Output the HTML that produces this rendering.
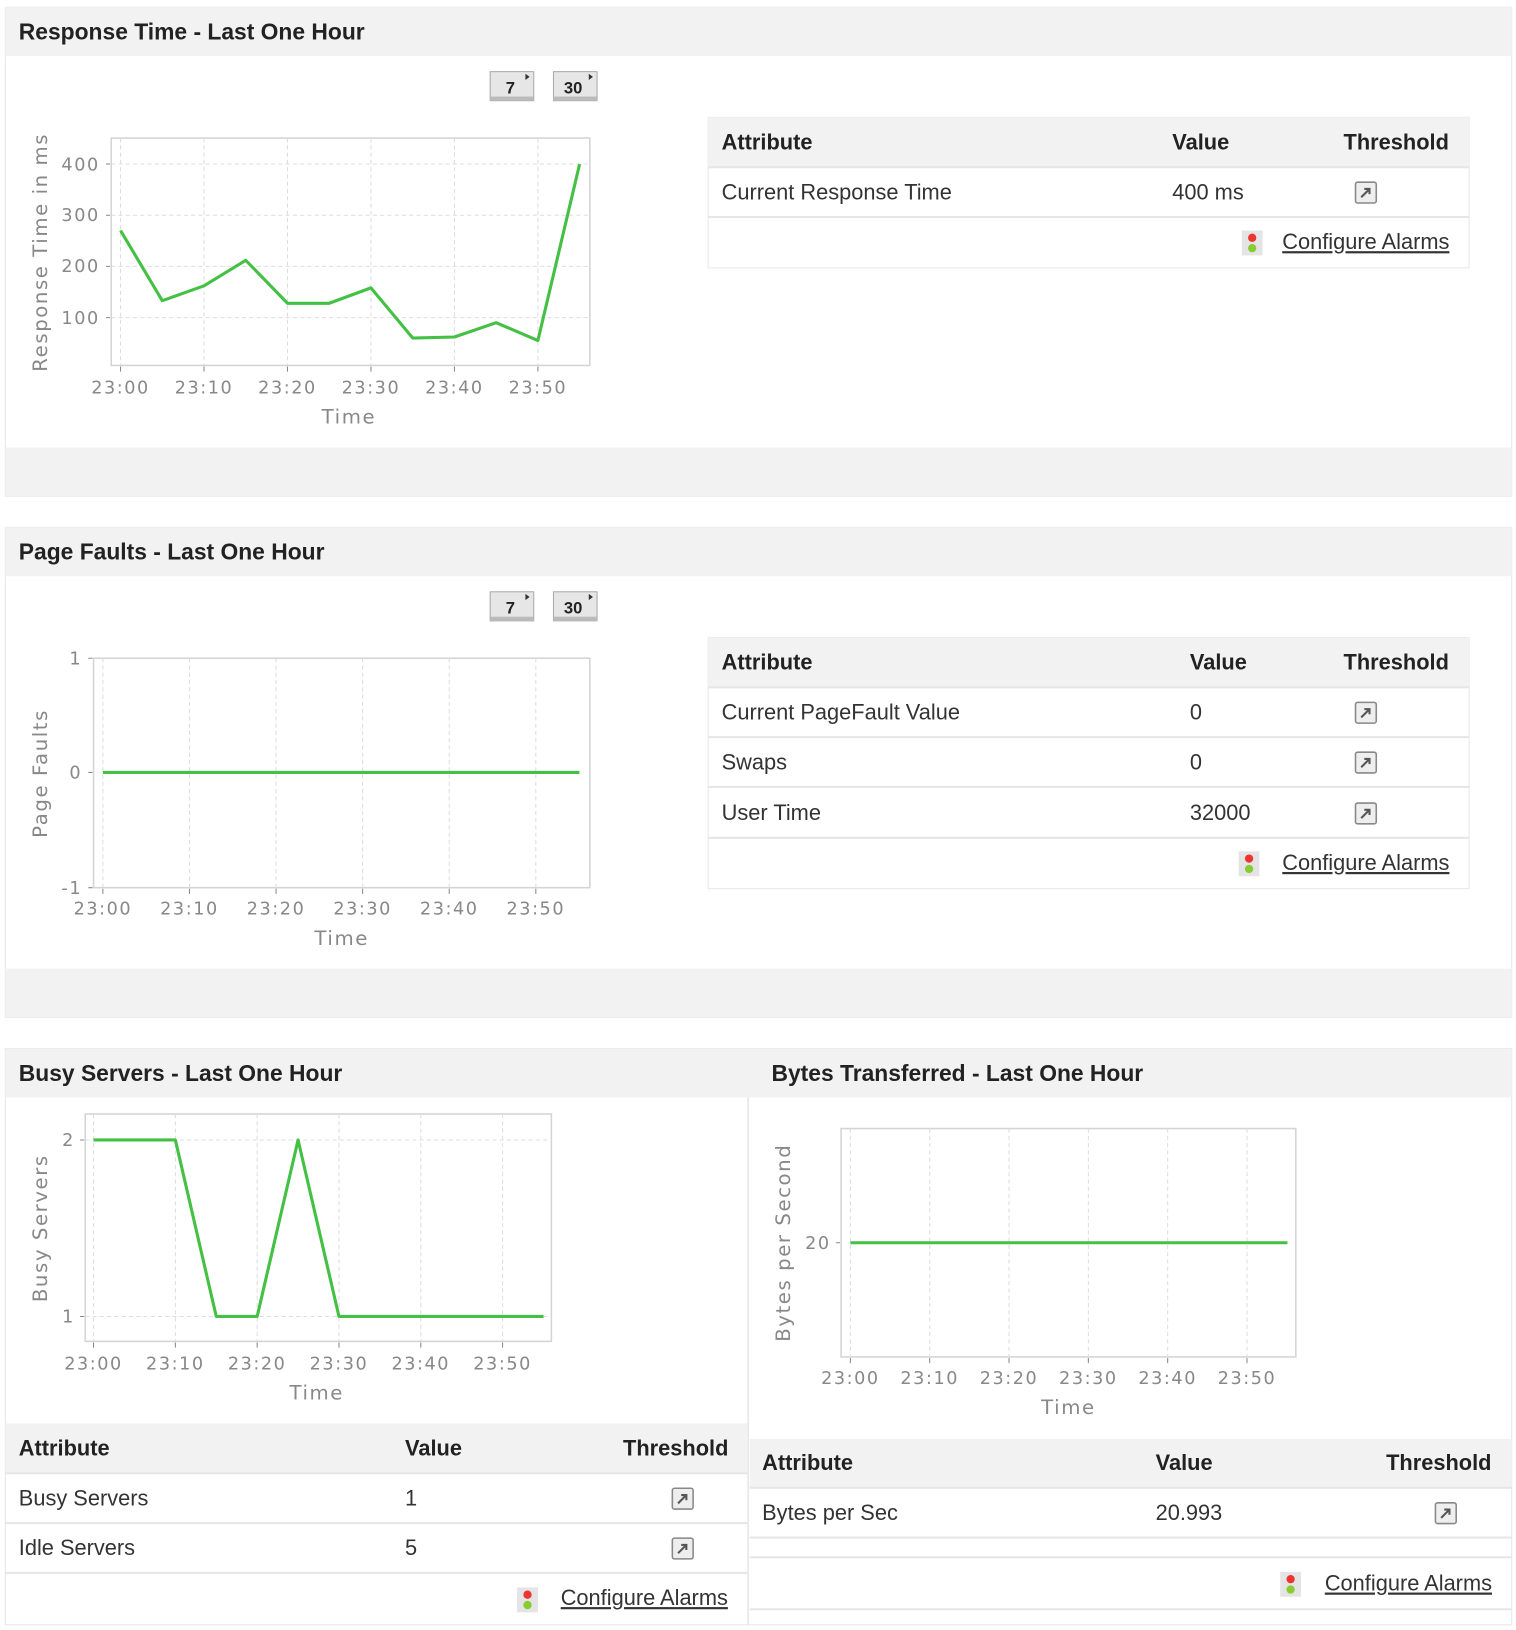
<!DOCTYPE html>
<html><head><meta charset="utf-8"><style>
html,body{margin:0;padding:0;background:#fff;width:1516px;height:1630px;overflow:hidden}
svg{display:block}
.t{font-family:"Liberation Sans",sans-serif;font-weight:bold;font-size:22px;fill:#222}
.h{font-family:"Liberation Sans",sans-serif;font-weight:bold;font-size:21px;fill:#222}
.c{font-family:"Liberation Sans",sans-serif;font-size:21px;fill:#333}
.k{font-family:"DejaVu Sans",sans-serif;font-size:17px;fill:#888;letter-spacing:1.5px}
.a{font-family:"DejaVu Sans",sans-serif;font-size:19px;fill:#888;letter-spacing:1.5px}
.g{stroke:#ddd;stroke-width:1;stroke-dasharray:4 3;fill:none}
.pb{fill:none;stroke:#d4d4d4;stroke-width:1.5}
.ln{fill:none;stroke:#44c044;stroke-width:3;stroke-linejoin:round}
.u{font-family:"Liberation Sans",sans-serif;font-size:21px;fill:#333;text-decoration:underline}
.btn{font-family:"Liberation Sans",sans-serif;font-weight:bold;font-size:16px;fill:#222}
</style></head><body>
<svg width="1516" height="1630" viewBox="0 0 1460 1570" xmlns="http://www.w3.org/2000/svg">
<defs>
<g id="ic"><rect x="0.5" y="0.5" width="20" height="20" rx="2" fill="#eee" stroke="#888" stroke-width="1.5"/><path d="M6 15 L14 7 M9 7 L14 7 L14 12" stroke="#555" stroke-width="2" fill="none"/></g>
<g id="tl"><rect x="0" y="0" width="20" height="24" fill="#e4e4e4"/><circle cx="10" cy="7" r="4" fill="#e33"/><circle cx="10" cy="17" r="4" fill="#8c3"/></g>
<g id="b7"><rect x="0" y="0" width="42" height="28" fill="#e6e6e6" stroke="#aaa"/><rect x="0" y="24" width="42" height="4" fill="#bbb"/></g>
</defs>

<!-- Panel 1 -->
<rect x="5" y="7" width="1451" height="471" fill="#fff" stroke="#e6e6e6"/>
<rect x="5" y="7" width="1451" height="47" fill="#f2f2f2"/>
<text class="t" x="18" y="38">Response Time - Last One Hour</text>
<rect x="5" y="431" width="1451" height="47" fill="#f2f2f2"/>
<use href="#b7" x="472" y="69"/><text class="btn" x="487" y="90">7</text><path d="M506 71 l4 3 l-4 3z" fill="#333"/>
<use href="#b7" x="533" y="69"/><text class="btn" x="543" y="90">30</text><path d="M567 71 l4 3 l-4 3z" fill="#333"/>
<rect x="107" y="133" width="461" height="219" fill="#fff" class="pb"/>
<g class="g">
<path d="M107 158H568M107 207.3H568M107 256.6H568M107 305.9H568"/>
<path d="M116 133V352M196.4 133V352M276.8 133V352M357.2 133V352M437.6 133V352M518 133V352"/>
</g>
<g stroke="#888"><path d="M102 158h4M102 207.3h4M102 256.6h4M102 305.9h4M116 353v5M196.4 353v5M276.8 353v5M357.2 353v5M437.6 353v5M518 353v5"/></g>
<g class="k" text-anchor="end"><text x="96" y="164">400</text><text x="96" y="213">300</text><text x="96" y="262">200</text><text x="96" y="312">100</text></g>
<g class="k" text-anchor="middle"><text x="116" y="379">23:00</text><text x="196.4" y="379">23:10</text><text x="276.8" y="379">23:20</text><text x="357.2" y="379">23:30</text><text x="437.6" y="379">23:40</text><text x="518" y="379">23:50</text></g>
<text class="a" x="336" y="408" text-anchor="middle">Time</text>
<text class="a" transform="translate(45,243) rotate(-90)" text-anchor="middle">Response Time in ms</text>
<polyline class="ln" points="116,222 156.2,289.6 196.4,275.3 236.6,250.7 276.8,292.1 317,292.1 357.2,277.3 397.4,325.6 437.6,324.6 477.8,310.8 518,328 558.2,158"/>

<rect x="682" y="113" width="733" height="145" fill="#fff" stroke="#e8e8e8"/>
<rect x="682" y="113" width="733" height="48" fill="#f2f2f2"/>
<path d="M682 161H1415M682 209H1415" stroke="#e6e6e6" stroke-width="2"/>
<text class="h" x="695" y="144">Attribute</text><text class="h" x="1129" y="144">Value</text><text class="h" x="1294" y="144">Threshold</text>
<text class="c" x="695" y="192">Current Response Time</text><text class="c" x="1129" y="192">400 ms</text><use href="#ic" x="1305" y="175"/>
<use href="#tl" x="1196" y="222"/><text class="u" x="1396" y="240" text-anchor="end">Configure Alarms</text>

<!-- Panel 2 -->
<rect x="5" y="508" width="1451" height="472" fill="#fff" stroke="#e6e6e6"/>
<rect x="5" y="508" width="1451" height="47" fill="#f2f2f2"/>
<text class="t" x="18" y="539">Page Faults - Last One Hour</text>
<rect x="5" y="933" width="1451" height="47" fill="#f2f2f2"/>
<use href="#b7" x="472" y="570"/><text class="btn" x="487" y="591">7</text><path d="M506 572 l4 3 l-4 3z" fill="#333"/>
<use href="#b7" x="533" y="570"/><text class="btn" x="543" y="591">30</text><path d="M567 572 l4 3 l-4 3z" fill="#333"/>
<rect x="90" y="634" width="478" height="221" class="pb" fill="#fff"/>
<g class="g"><path d="M99 634V855M182.4 634V855M265.8 634V855M349.2 634V855M432.6 634V855M516 634V855"/></g>
<g stroke="#888"><path d="M85 634h4M85 744h4M85 855h4M99 856v5M182.4 856v5M265.8 856v5M349.2 856v5M432.6 856v5M516 856v5"/></g>
<g class="k" text-anchor="end"><text x="79" y="640">1</text><text x="79" y="750">0</text><text x="79" y="861">-1</text></g>
<g class="k" text-anchor="middle"><text x="99" y="881">23:00</text><text x="182.4" y="881">23:10</text><text x="265.8" y="881">23:20</text><text x="349.2" y="881">23:30</text><text x="432.6" y="881">23:40</text><text x="516" y="881">23:50</text></g>
<text class="a" x="329" y="910" text-anchor="middle">Time</text>
<text class="a" transform="translate(45,745) rotate(-90)" text-anchor="middle">Page Faults</text>
<path class="ln" d="M99 744H558"/>

<rect x="682" y="614" width="733" height="242" fill="#fff" stroke="#e8e8e8"/>
<rect x="682" y="614" width="733" height="48" fill="#f2f2f2"/>
<path d="M682 662H1415M682 710H1415M682 758H1415M682 807H1415" stroke="#e6e6e6" stroke-width="2"/>
<text class="h" x="695" y="645">Attribute</text><text class="h" x="1146" y="645">Value</text><text class="h" x="1294" y="645">Threshold</text>
<text class="c" x="695" y="693">Current PageFault Value</text><text class="c" x="1146" y="693">0</text><use href="#ic" x="1305" y="676"/>
<text class="c" x="695" y="741">Swaps</text><text class="c" x="1146" y="741">0</text><use href="#ic" x="1305" y="724"/>
<text class="c" x="695" y="790">User Time</text><text class="c" x="1146" y="790">32000</text><use href="#ic" x="1305" y="773"/>
<use href="#tl" x="1193" y="820"/><text class="u" x="1396" y="838" text-anchor="end">Configure Alarms</text>

<!-- Panel 3 -->
<rect x="5" y="1010" width="1451" height="555" fill="#fff" stroke="#e6e6e6"/>
<rect x="5" y="1010" width="1451" height="47" fill="#f2f2f2"/>
<path d="M720.5 1057V1565" stroke="#e6e6e6" stroke-width="1.5"/>
<text class="t" x="18" y="1041">Busy Servers - Last One Hour</text>
<text class="t" x="743" y="1041">Bytes Transferred - Last One Hour</text>

<rect x="82" y="1073" width="449" height="219" class="pb" fill="#fff"/>
<g class="g"><path d="M82 1098H531M82 1268H531"/><path d="M90 1073V1292M168.8 1073V1292M247.6 1073V1292M326.4 1073V1292M405.2 1073V1292M484 1073V1292"/></g>
<g stroke="#888"><path d="M77 1098h4M77 1268h4M90 1293v5M168.8 1293v5M247.6 1293v5M326.4 1293v5M405.2 1293v5M484 1293v5"/></g>
<g class="k" text-anchor="end"><text x="72" y="1104">2</text><text x="72" y="1274">1</text></g>
<g class="k" text-anchor="middle"><text x="90" y="1319">23:00</text><text x="168.8" y="1319">23:10</text><text x="247.6" y="1319">23:20</text><text x="326.4" y="1319">23:30</text><text x="405.2" y="1319">23:40</text><text x="484" y="1319">23:50</text></g>
<text class="a" x="305" y="1348" text-anchor="middle">Time</text>
<text class="a" transform="translate(45,1183) rotate(-90)" text-anchor="middle">Busy Servers</text>
<polyline class="ln" points="90,1098 129.4,1098 168.8,1098 208.2,1268 247.6,1268 287,1098 326.4,1268 365.8,1268 405.2,1268 444.6,1268 484,1268 523.4,1268"/>

<rect x="5" y="1371" width="715" height="48" fill="#f2f2f2"/>
<path d="M5 1419H720M5 1467H720M5 1515H720" stroke="#e6e6e6" stroke-width="2"/>
<text class="h" x="18" y="1402">Attribute</text><text class="h" x="390" y="1402">Value</text><text class="h" x="600" y="1402">Threshold</text>
<text class="c" x="18" y="1450">Busy Servers</text><text class="c" x="390" y="1450">1</text><use href="#ic" x="647" y="1433"/>
<text class="c" x="18" y="1498">Idle Servers</text><text class="c" x="390" y="1498">5</text><use href="#ic" x="647" y="1481"/>
<use href="#tl" x="498" y="1529"/><text class="u" x="701" y="1546" text-anchor="end">Configure Alarms</text>

<rect x="810" y="1087" width="438" height="220" class="pb" fill="#fff"/>
<g class="g"><path d="M819 1087V1307M895.4 1087V1307M971.8 1087V1307M1048.2 1087V1307M1124.6 1087V1307M1201 1087V1307"/></g>
<g stroke="#888"><path d="M805 1197h4M819 1308v5M895.4 1308v5M971.8 1308v5M1048.2 1308v5M1124.6 1308v5M1201 1308v5"/></g>
<text class="k" x="800" y="1203" text-anchor="end">20</text>
<g class="k" text-anchor="middle"><text x="819" y="1333">23:00</text><text x="895.4" y="1333">23:10</text><text x="971.8" y="1333">23:20</text><text x="1048.2" y="1333">23:30</text><text x="1124.6" y="1333">23:40</text><text x="1201" y="1333">23:50</text></g>
<text class="a" x="1029" y="1362" text-anchor="middle">Time</text>
<text class="a" transform="translate(761,1197) rotate(-90)" text-anchor="middle">Bytes per Second</text>
<path class="ln" d="M819 1197H1240"/>

<rect x="722" y="1386" width="734" height="47" fill="#f2f2f2"/>
<path d="M722 1433H1456M722 1481H1456M722 1500H1456M722 1550H1456" stroke="#e6e6e6" stroke-width="2"/>
<text class="h" x="734" y="1416">Attribute</text><text class="h" x="1113" y="1416">Value</text><text class="h" x="1335" y="1416">Threshold</text>
<text class="c" x="734" y="1464">Bytes per Sec</text><text class="c" x="1113" y="1464">20.993</text><use href="#ic" x="1382" y="1447"/>
<use href="#tl" x="1233" y="1514"/><text class="u" x="1437" y="1532" text-anchor="end">Configure Alarms</text>
</svg>
</body></html>
